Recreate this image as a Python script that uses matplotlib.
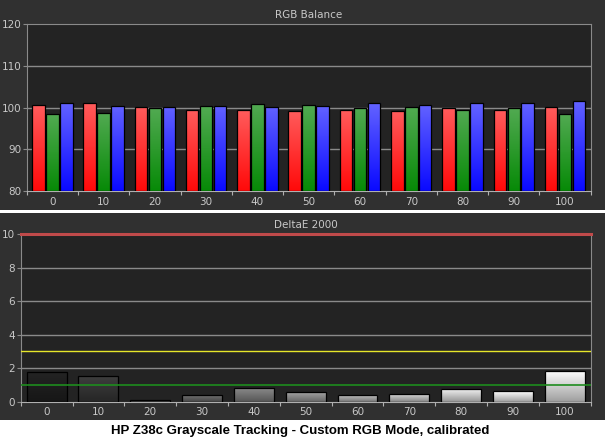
import numpy as np
import matplotlib
matplotlib.use("Agg")
import matplotlib.pyplot as plt
from matplotlib.patches import Rectangle
from matplotlib.colors import LinearSegmentedColormap

levels = [0, 10, 20, 30, 40, 50, 60, 70, 80, 90, 100]
red_vals = [100.6, 101.1, 100.2, 99.5, 99.5, 99.3, 99.5, 99.3, 100.0, 99.5, 100.2]
green_vals = [98.6, 98.7, 100.0, 100.4, 100.9, 100.6, 100.0, 100.2, 99.5, 100.0, 98.6]
blue_vals = [101.1, 100.4, 100.2, 100.4, 100.2, 100.4, 101.0, 100.6, 101.0, 101.2, 101.7]
delta_e = [1.75, 1.51, 0.08, 0.38, 0.80, 0.56, 0.38, 0.44, 0.74, 0.62, 1.85]

PANEL = "#303030"
PLOT_BG = "#232323"
GRID = "#8a8a8a"
TEXT = "#c8c8c8"


def gradient_bar(ax, x, bottom, height, width, top_col, bot_col):
    bars = ax.bar(x, height, width=width, bottom=bottom, color="none",
                  edgecolor="black", linewidth=0.9, zorder=4)
    cmap = LinearSegmentedColormap.from_list("g", [bot_col, top_col])
    grad = np.linspace(0, 1, 64).reshape(-1, 1)
    for b in bars:
        x0, y0 = b.get_x(), b.get_y()
        im = ax.imshow(grad, cmap=cmap, origin="lower", aspect="auto",
                       extent=[x0, x0 + b.get_width(), y0, y0 + b.get_height()],
                       zorder=3, interpolation="bilinear")
        im.set_clip_path(b)


def style_axes(ax, title):
    ax.set_facecolor(PLOT_BG)
    for s in ax.spines.values():
        s.set_color(GRID)
    ax.spines["bottom"].set_color("#b0b0b0")
    ax.tick_params(axis="y", colors=GRID, labelcolor=TEXT, labelsize=7.5,
                   length=3, width=0.8, pad=1)
    ax.tick_params(axis="x", which="major", length=0, labelcolor=TEXT,
                   labelsize=7.5, pad=4)
    ax.tick_params(axis="x", which="minor", length=3, width=0.8, colors="#b0b0b0")
    x = np.arange(len(levels))
    ax.set_xticks(x)
    ax.set_xticklabels([str(v) for v in levels])
    ax.set_xticks(np.arange(-0.5, len(levels)), minor=True)
    ax.set_xlim(-0.5, len(levels) - 0.5)
    ax.set_title(title, color=TEXT, fontsize=7.5, pad=4)


fig = plt.figure(figsize=(6.05, 4.41), dpi=100, facecolor="white")
fig.patches.append(Rectangle((0, 1 - 210 / 441), 1, 210 / 441, transform=fig.transFigure,
                             facecolor=PANEL, edgecolor="none", zorder=-10))
fig.patches.append(Rectangle((0, 1 - 420 / 441), 1, (420 - 213) / 441, transform=fig.transFigure,
                             facecolor=PANEL, edgecolor="none", zorder=-10))

# RGB balance
ax1 = fig.add_axes([0.0441, 0.5662, 0.9323, 0.3794])
style_axes(ax1, "RGB Balance")
x = np.arange(len(levels))
w = 0.245
off = 0.272
gradient_bar(ax1, x - off, 80, np.array(red_vals) - 80, w, "#ff5c5c", "#ff0a0a")
gradient_bar(ax1, x, 80, np.array(green_vals) - 80, w, "#52aa52", "#078a07")
gradient_bar(ax1, x + off, 80, np.array(blue_vals) - 80, w, "#6262ff", "#0a0aff")
ax1.set_ylim(80, 120)
ax1.set_yticks([80, 90, 100, 110, 120])
for yv in [90, 100, 110]:
    ax1.axhline(yv, color=GRID, linewidth=1, zorder=1)

# DeltaE
ax2 = fig.add_axes([0.0342, 0.0891, 0.9421, 0.3803])
style_axes(ax2, "DeltaE 2000")
for i, v in enumerate(delta_e):
    p = levels[i] / 100
    top = min(1.0, 0.14 + p)
    bot = top * 0.62
    gradient_bar(ax2, [i], 0, [v], 0.77, (top, top, top), (bot, bot, bot))
ax2.set_ylim(0, 10)
ax2.set_yticks([0, 2, 4, 6, 8, 10])
for yv in [2, 4, 6, 8]:
    ax2.axhline(yv, color=GRID, linewidth=1, zorder=1)
ax2.axhline(10, color="#c04a4a", linewidth=2.2, zorder=6, clip_on=False)
ax2.axhline(3, color="#e6e62a", linewidth=1, zorder=6)
ax2.axhline(1, color="#1e8c1e", linewidth=1.2, zorder=6)

fig.text(0.497, 1 - 431 / 441, "HP Z38c Grayscale Tracking - Custom RGB Mode, calibrated",
         ha="center", va="center", fontsize=9.5, fontweight="bold", color="black",
         family="Liberation Sans")

fig.savefig("out.png", dpi=100, facecolor=fig.get_facecolor())
